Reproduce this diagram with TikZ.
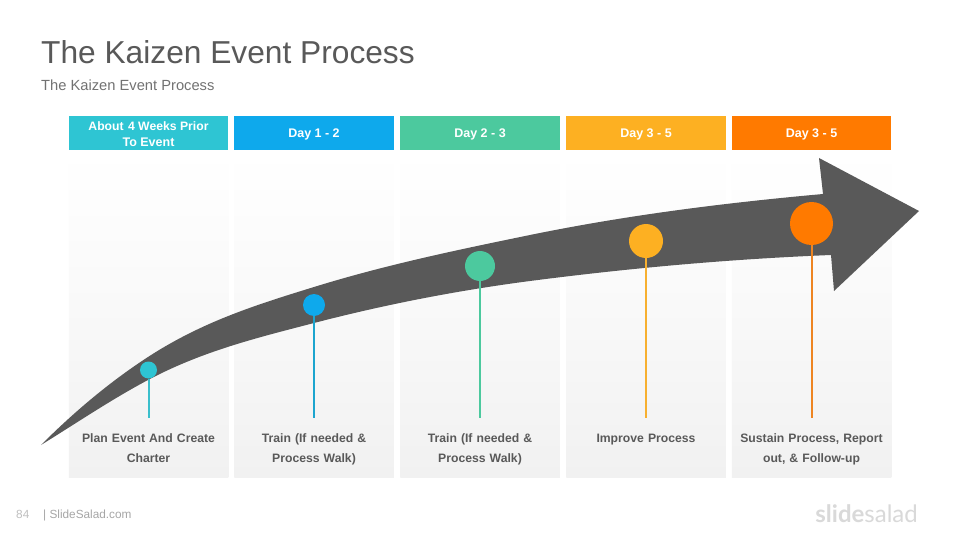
\documentclass[tikz,border=0pt]{standalone}
\usepackage{fontspec}
\setmainfont{Liberation Sans}
\newfontfamily\logofont{Lato}
\definecolor{cA}{HTML}{2EC5D3}
\definecolor{cB}{HTML}{0EA9EC}
\definecolor{cC}{HTML}{4CC99E}
\definecolor{cD}{HTML}{FDB022}
\definecolor{cE}{HTML}{FF7A00}
\definecolor{lA}{HTML}{3ABFCC}
\definecolor{lB}{HTML}{1CA5CF}
\definecolor{lC}{HTML}{4CC99E}
\definecolor{lD}{HTML}{F7B030}
\definecolor{lE}{HTML}{EE8522}
\definecolor{arrowgrey}{HTML}{595959}
\definecolor{titlegrey}{HTML}{595959}
\definecolor{labelgrey}{HTML}{595959}
\definecolor{panelbot}{HTML}{F1F1F1}
\tikzset{
  x=1pt,y=-1pt,
  panel/.style={minimum width=159.5pt,minimum height=327pt,inner sep=0pt,anchor=north,
    top color=white,bottom color=panelbot,middle color=white!55!panelbot,shading angle=0},
  bar/.style={minimum width=159.5pt,minimum height=34pt,inner sep=0pt,anchor=north},
  bartext/.style={inner sep=0pt,text=white,font=\fontsize{12.5}{15.5}\selectfont\bfseries,align=center},
  dot/.style={circle,inner sep=0pt},
  stem/.style={line width=2pt},
  desc/.style={text=labelgrey,font=\fontsize{12.2}{20}\selectfont\bfseries,align=center,anchor=north,
    text width=156pt,inner sep=0pt,execute at begin node=\strut},
}
\begin{document}
\begin{tikzpicture}
\useasboundingbox (0,0) rectangle (960,540);
\fill[white] (0,0) rectangle (960,540);
\node[anchor=base west,inner sep=0pt,text=titlegrey,font=\fontsize{31.7}{36}\selectfont] (title) at (41,64) {The Kaizen Event Process};
\node[anchor=base west,inner sep=0pt,text=titlegrey!85,font=\fontsize{14.7}{18}\selectfont] (subtitle) at (41,91) {The Kaizen Event Process};
\foreach \n/\x/\c/\t in {1/148.5/cA/{{\fontsize{12.2}{15.5}\selectfont About\kern1pt\ 4 Weeks Prior}\\To Event},2/314/cB/{Day 1 - 2},3/480/cC/{Day 2 - 3},4/646/cD/{Day 3 - 5},5/811.5/cE/{Day 3 - 5}}{
  \node[panel] (p\n) at (\x,150) {};
  \node[bar,fill=\c] (b\n) at (\x,116) {};
  \node[bartext] (bl\n) at ([yshift=-1pt]b\n.center) {\t};
}
\fill[arrowgrey] (41,445)
  .. controls (76.7,409.3) and (112.3,380.2) .. (148,357)
  .. controls (203.3,321) and (258.7,304.1) .. (314,287)
  .. controls (386,264.7) and (458,249.8) .. (530,235)
  .. controls (627.7,215) and (725.3,202.8) .. (823,194)
  -- (819,158) -- (919,211) -- (834,291) -- (831,255)
  .. controls (730.7,259) and (630.3,268) .. (530,281)
  .. controls (458,290.4) and (386,304.3) .. (314,323)
  .. controls (258.7,337.4) and (203.3,350.7) .. (148,380)
  .. controls (112.3,398.9) and (76.7,422.9) .. (41,445) -- cycle;
\foreach \n/\x/\y/\r/\c/\l in {1/148.5/370/8.5/cA/lA,2/314/305/11/cB/lB,3/480/266/15/cC/lC,4/646/241/17/cD/lD,5/811.5/223.5/21.5/cE/lE}{
  \node[dot,fill=\c,minimum size=2*\r pt] (d\n) at (\x,\y) {};
  \coordinate (e\n) at (\x,418);
  \draw[stem,\l] (d\n.south) -- (e\n);
}
\node[desc] (t1) at (148.5,428.5) {Plan Event And Create\\Charter};
\node[desc] (t2) at (314,428.5) {Train (If needed \&\\Process Walk)};
\node[desc] (t3) at (480,428.5) {Train (If needed \&\\Process Walk)};
\node[desc] (t4) at (646,428.5) {Improve Process};
\node[desc] (t5) at (811.5,428.5) {Sustain Process, Report\\out, \& Follow-up};
\node[anchor=base west,inner sep=0pt,text=black!25,font=\fontsize{11.8}{14}\selectfont] (num) at (16,518) {84};
\node[anchor=base west,inner sep=0pt,text=black!35,font=\fontsize{11.8}{14}\selectfont] (site) at (43,518) {| SlideSalad.com};
\node[anchor=base east,inner sep=0pt,text=black!15,font=\logofont\fontsize{24}{28}\selectfont] (logo) at (918,522) {\textbf{slide}salad};
\end{tikzpicture}
\end{document}
